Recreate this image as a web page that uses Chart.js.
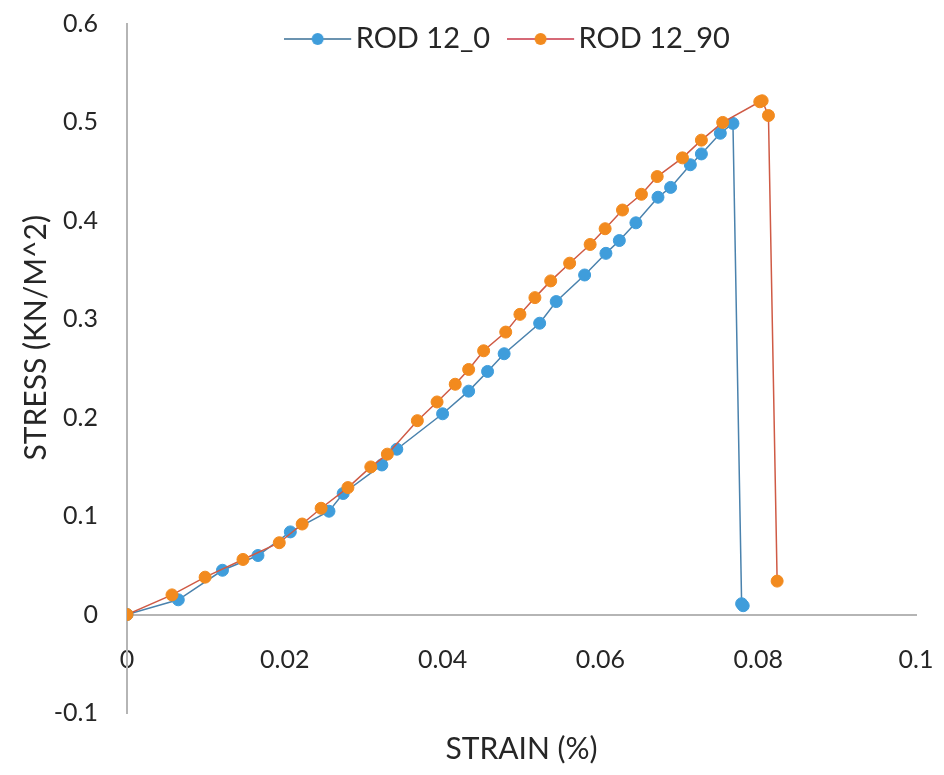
<!DOCTYPE html>
<html>
<head>
<meta charset="utf-8">
<script src="https://cdn.jsdelivr.net/npm/chart.js@4.4.1/dist/chart.umd.min.js"></script>
<style>
  html, body { margin: 0; padding: 0; background: #ffffff; }
  #wrap { width: 944px; height: 775px; position: relative; }
</style>
</head>
<body>
<div id="wrap"><canvas id="c" width="944" height="775"></canvas></div>
<script>
// ---- Data ----
const seriesNames = ['ROD 12_0', 'ROD 12_90'];

const strain0 = [0, 0.0065, 0.0121, 0.0166, 0.0207, 0.0256, 0.0274, 0.0323, 0.0342, 0.0400, 0.0433, 0.0457, 0.0478, 0.0523, 0.0544, 0.0580, 0.0607, 0.0624, 0.0645, 0.0673, 0.0689, 0.0714, 0.0728, 0.0752, 0.0768, 0.0779, 0.0781];
const stress0 = [0, 0.015, 0.045, 0.060, 0.084, 0.105, 0.123, 0.152, 0.168, 0.204, 0.227, 0.247, 0.265, 0.296, 0.318, 0.345, 0.367, 0.380, 0.398, 0.424, 0.434, 0.457, 0.468, 0.489, 0.499, 0.011, 0.009];

const strain90 = [0, 0.0057, 0.0099, 0.0147, 0.0193, 0.0222, 0.0246, 0.0280, 0.0309, 0.0330, 0.0368, 0.0393, 0.0416, 0.0433, 0.0452, 0.0480, 0.0498, 0.0517, 0.0537, 0.0561, 0.0587, 0.0606, 0.0628, 0.0652, 0.0672, 0.0704, 0.0728, 0.0755, 0.0802, 0.0805, 0.0813, 0.0824];
const stress90 = [0, 0.020, 0.038, 0.056, 0.073, 0.092, 0.108, 0.129, 0.150, 0.163, 0.197, 0.216, 0.234, 0.249, 0.268, 0.287, 0.305, 0.322, 0.339, 0.357, 0.376, 0.392, 0.411, 0.427, 0.445, 0.464, 0.482, 0.500, 0.521, 0.522, 0.507, 0.034];

const xTickValues = [0, 0.02, 0.04, 0.06, 0.08, 0.1];
const xTickLabels = ['0', '0.02', '0.04', '0.06', '0.08', '0.1'];
const yTickValues = [-0.1, 0, 0.1, 0.2, 0.3, 0.4, 0.5, 0.6];
const yTickLabels = ['-0.1', '0', '0.1', '0.2', '0.3', '0.4', '0.5', '0.6'];

const xTitle = 'STRAIN (%)';
const yTitle = 'STRESS (KN/M^2)';

// ---- Styling ----
const FONT = 'Lato, "Open Sans", "Noto Sans", sans-serif';
const TEXT = '#262626';
const AXIS = '#b5b5b5';
const blueFill = '#3f9ddb', blueLine = '#4a82ad';
const orangeFill = '#f28a1e', orangeLine = '#cf5a45';
const legendTextY = 39;   // vertical centre of the legend row

function toPoints(xs, ys) { return xs.map((x, i) => ({ x: x, y: ys[i] })); }

// Legend symbol: short line with a marker (Excel style); blank space on the right
// so the visible symbol sits closer to its label.
function legendSymbol(lineColor, dotColor) {
  const cv = document.createElement('canvas');
  cv.width = 86; cv.height = 14;
  const g = cv.getContext('2d');
  g.strokeStyle = lineColor; g.lineWidth = 1.6;
  g.beginPath(); g.moveTo(0, 7); g.lineTo(67, 7); g.stroke();
  g.fillStyle = dotColor;
  g.beginPath(); g.arc(33.5, 7, 6, 0, Math.PI * 2); g.fill();
  return cv;
}
const symbols = [legendSymbol('#3a6f96', blueFill), legendSymbol('#c8374a', orangeFill)];

// The legend overlaps the top of the plot area (as in the reference):
// it takes no layout height and is placed after layout.
const legendOverlay = {
  id: 'legendOverlay',
  beforeLayout(chart) {
    const L = chart.legend;
    if (L && !L.__patched) {
      const orig = L.fit.bind(L);
      L.fit = function () { orig(); this.height = 0; };
      L.__patched = true;
    }
  },
  afterLayout(chart) {
    const L = chart.legend;
    if (!L) return;
    const pad = L.options.labels.padding;
    const fs = L.options.labels.font.size;
    L.top = legendTextY - pad - fs / 2;
    L.height = 2 * (pad + fs);
    L.bottom = L.top + L.height;
  }
};

const hiddenTickGrid = (len) => ({
  display: true,
  drawOnChartArea: false,
  drawTicks: true,
  tickLength: len,
  tickColor: 'rgba(0,0,0,0)',
  color: 'rgba(0,0,0,0)'
});

const chart = new Chart(document.getElementById('c'), {
  type: 'scatter',
  plugins: [legendOverlay],
  data: {
    datasets: [
      {
        label: seriesNames[0],
        data: toPoints(strain0, stress0),
        showLine: true,
        borderColor: blueLine,
        borderWidth: 1.5,
        pointBackgroundColor: blueFill,
        pointBorderColor: blueFill,
        pointRadius: 6,
        pointBorderWidth: 1,
        tension: 0,
        order: 2
      },
      {
        label: seriesNames[1],
        data: toPoints(strain90, stress90),
        showLine: true,
        borderColor: orangeLine,
        borderWidth: 1.5,
        pointBackgroundColor: orangeFill,
        pointBorderColor: orangeFill,
        pointRadius: 6,
        pointBorderWidth: 1,
        tension: 0,
        order: 1
      }
    ]
  },
  options: {
    responsive: false,
    animation: false,
    devicePixelRatio: 1,
    layout: { padding: { top: 24, left: 0, right: 28, bottom: 0 } },
    plugins: {
      tooltip: { enabled: false },
      legend: {
        display: true,
        position: 'top',
        align: 'center',
        fullSize: false,
        labels: {
          usePointStyle: true,
          pointStyleWidth: 28,
          padding: 46,
          color: TEXT,
          font: { family: FONT, size: 29 },
          generateLabels: (ch) => ch.data.datasets.map((ds, i) => ({
            text: ds.label,
            pointStyle: symbols[i],
            fillStyle: ds.pointBackgroundColor,
            strokeStyle: ds.borderColor,
            lineWidth: 0,
            hidden: false,
            datasetIndex: i,
            fontColor: TEXT
          }))
        }
      },
      title: {
        display: true,
        position: 'bottom',
        fullSize: false,
        text: xTitle,
        color: TEXT,
        font: { family: FONT, size: 30, weight: 'normal' },
        padding: { top: 18, bottom: 8 }
      }
    },
    scales: {
      x: {
        type: 'linear',
        position: { y: 0 },
        min: 0,
        max: 0.1,
        afterBuildTicks: (s) => { s.ticks = xTickValues.map(v => ({ value: v })); },
        ticks: {
          padding: 0,
          color: TEXT,
          font: { family: FONT, size: 25 },
          maxRotation: 0,
          callback: (v) => { const i = xTickValues.findIndex(t => Math.abs(t - v) < 1e-9); return i >= 0 ? xTickLabels[i] : ''; }
        },
        grid: hiddenTickGrid(30),
        border: { display: true, color: AXIS, width: 2 }
      },
      y: {
        type: 'linear',
        position: 'left',
        min: -0.1,
        max: 0.6,
        afterBuildTicks: (s) => { s.ticks = yTickValues.map(v => ({ value: v })); },
        afterFit: (s) => { s.width = 127; },
        ticks: {
          padding: 0,
          color: TEXT,
          font: { family: FONT, size: 25 },
          callback: (v) => { const i = yTickValues.findIndex(t => Math.abs(t - v) < 1e-9); return i >= 0 ? yTickLabels[i] : ''; }
        },
        grid: hiddenTickGrid(29),
        border: { display: true, color: AXIS, width: 2 },
        title: {
          display: true,
          text: '\u00a0\u00a0\u00a0\u00a0\u00a0\u00a0\u00a0\u00a0' + yTitle,
          color: TEXT,
          font: { family: FONT, size: 30 },
          padding: { top: 18, bottom: 0 }
        }
      }
    }
  }
});
</script>
</body>
</html>
